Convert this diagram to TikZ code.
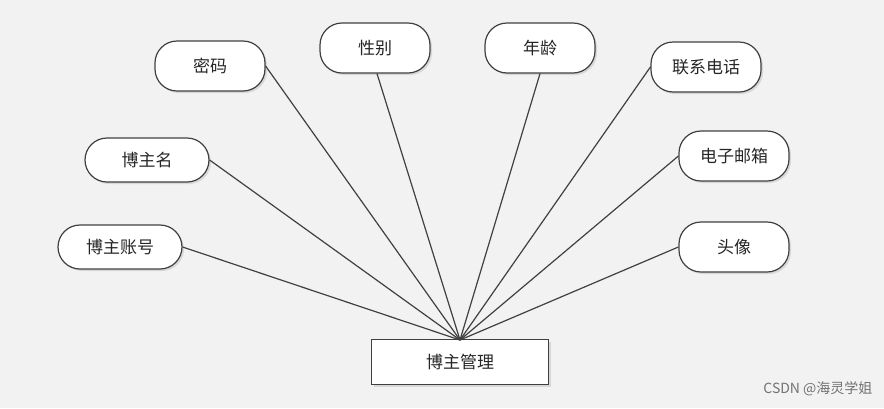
\documentclass[tikz,border=0pt]{standalone}
\usepackage{fontspec}
\newfontfamily\cjk{Noto Sans CJK SC}
\usetikzlibrary{shadows}
\definecolor{bg}{HTML}{F2F2F2}
\tikzset{
 attr/.style={draw=black!75,line width=1.2pt,rounded corners=22pt,fill=white,minimum width=110pt,minimum height=50pt,font=\cjk\fontsize{17}{17}\selectfont,text=black!85,drop shadow={shadow xshift=2pt,shadow yshift=-2pt,fill=black!25}},
 ent/.style={draw=black!75,line width=1.2pt,fill=white,minimum width=177pt,minimum height=45pt,font=\cjk\fontsize{17}{17}\selectfont,text=black!85,drop shadow={shadow xshift=2pt,shadow yshift=-2pt,fill=black!25}},
 link/.style={draw=black!75,line width=1.2pt}
}
\begin{document}
\begin{tikzpicture}[x=1pt,y=-1pt]
\fill[bg] (0,0) rectangle (884,408);
\useasboundingbox (0,0) rectangle (884,408);
\coordinate (apex) at (460,340);
\node[attr] (mm) at (210,66) {密码};
\node[attr] (xb) at (375,48) {性别};
\node[attr] (nl) at (540,48) {年龄};
\node[attr] (dh) at (706,67) {联系电话};
\node[attr,minimum width=124pt,minimum height=44pt] (bzm) at (147,160) {博主名};
\node[attr] (yx) at (734,156) {电子邮箱};
\node[attr,minimum width=124pt,minimum height=44pt] (zh) at (120,247) {博主账号};
\node[attr] (tx) at (734,247) {头像};
\node[ent] (gl) at (460,362) {博主管理};
\draw[link] (mm.east) -- (apex);
\draw[link] (xb.south) ++(2,0) -- (apex);
\draw[link] (nl.south) -- (apex);
\draw[link] (dh.west) -- (apex);
\draw[link] (bzm.east) -- (apex);
\draw[link] (yx.west) -- (apex);
\draw[link] (zh.east) -- (apex);
\draw[link] (tx.west) -- (apex);
\node[font=\cjk\fontsize{14}{14}\selectfont,text=black!55,anchor=east] (wm) at (876,389) {CSDN @海灵学姐};
\end{tikzpicture}
\end{document}
